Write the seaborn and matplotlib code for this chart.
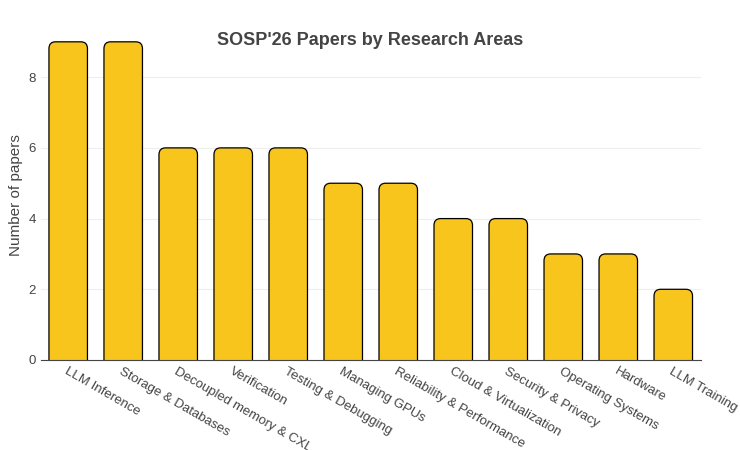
import matplotlib
matplotlib.use("Agg")
import matplotlib.pyplot as plt
import seaborn as sns
import pandas as pd
from matplotlib.patches import FancyBboxPatch

areas = ["LLM Inference", "Storage & Databases", "Decoupled memory & CXL", "Verification",
         "Testing & Debugging", "Managing GPUs", "Reliability & Performance",
         "Cloud & Virtualization", "Security & Privacy", "Operating Systems", "Hardware", "LLM Training"]
papers = [9, 9, 6, 6, 6, 5, 5, 4, 4, 3, 3, 2]

sns.set_style("white")
plt.rcParams['font.family'] = ['Liberation Sans', 'DejaVu Sans']

df = pd.DataFrame({"area": areas, "papers": papers})
fig = plt.figure(figsize=(7.4, 4.5), dpi=100)
ax = fig.add_axes([0.055, 0.2, 0.892, 0.733])
sns.barplot(data=df, x="area", y="papers", color="#F7C51B", width=0.7, ax=ax, zorder=3)

for p in list(ax.patches):
    x, y, w, h = p.get_x(), p.get_y(), p.get_width(), p.get_height()
    p.set_visible(False)
    fb = FancyBboxPatch((x, -0.5), w, h + 0.5, boxstyle="round,pad=0,rounding_size=0.12",
                        mutation_aspect=1.6, facecolor="#F7C51B", edgecolor="black",
                        linewidth=0.9, zorder=3)
    ax.add_patch(fb)

ax.set_ylim(0, 9.33)
ax.set_xlim(-0.5, len(areas) - 0.5)
ax.set_yticks([0, 2, 4, 6, 8])
ax.yaxis.grid(True, color="#eeeeee", lw=0.8, zorder=0)
for s in ["top", "right", "left"]:
    ax.spines[s].set_visible(False)
ax.spines["bottom"].set_color("#444444")
ax.spines["bottom"].set_zorder(5)
ax.tick_params(axis="y", length=0, labelsize=9.5, colors="#444444")
ax.tick_params(axis="x", length=0, labelsize=9.5, colors="#444444", pad=4)
plt.setp(ax.get_xticklabels(), rotation=-30, ha="left", rotation_mode="anchor")
ax.set_xlabel("")
ax.set_ylabel("Number of papers", fontsize=11, color="#444444")
fig.text(0.5, 0.9, "SOSP'26 Papers by Research Areas", ha="center", fontsize=13,
         fontweight="bold", color="#444444")
fig.savefig("out.png", dpi=100)
